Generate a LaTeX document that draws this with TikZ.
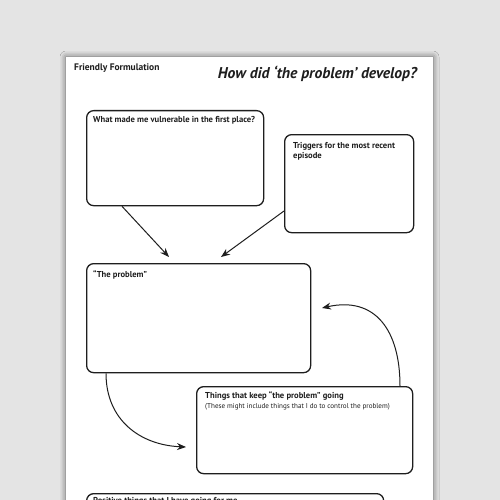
\documentclass[tikz,border=0pt]{standalone}
\usepackage{fontspec}
\setmainfont{PT Sans}
\usetikzlibrary{arrows.meta,shadows.blur,calc}
\definecolor{bggrey}{HTML}{E4E4E4}
\definecolor{ink}{HTML}{1E1E1E}
\tikzset{
  card/.style={draw=ink, line width=1.3pt, rounded corners=7pt, inner sep=0pt, anchor=north west},
  lab/.style={anchor=base west, inner sep=0pt, font=\bfseries\fontsize{8.6pt}{10pt}\selectfont, align=left, text=ink},
  conn/.style={draw=ink, line width=1pt, -{Stealth[length=9pt,width=7pt]}},
}
\begin{document}
\begin{tikzpicture}[x=1pt,y=-1pt]
\useasboundingbox (0,0) rectangle (500,500);
\clip (0,0) rectangle (500,500);
\fill[bggrey] (0,0) rectangle (500,500);
\fill[white, blur shadow={shadow xshift=0pt, shadow yshift=0pt, shadow blur radius=6pt, shadow opacity=60}] (66,57) rectangle (433,530);
% header
\node[anchor=base west, inner sep=0pt, font=\bfseries\fontsize{9.5pt}{11pt}\selectfont, text=ink] (hdr) at (74,71) {Friendly Formulation};
\node[anchor=base east, inner sep=0pt, font=\bfseries\itshape\fontsize{15.6pt}{18pt}\selectfont, text=ink] (title) at (417,79) {How did ‘the problem’ develop?};
% boxes
\node[card, minimum width=177pt, minimum height=95pt] (b1) at (86,110) {};
\node[card, minimum width=129pt, minimum height=98pt] (b2) at (284,134) {};
\node[card, minimum width=224pt, minimum height=109pt] (b3) at (86,263) {};
\node[card, minimum width=216pt, minimum height=87pt] (b4) at (196,386) {};
\node[card, minimum width=297pt, minimum height=60pt] (b5) at (86,493) {};
% texts
\node[lab] (t1) at (93,122.5) {What made me vulnerable in the first place?};
\node[lab] (t2) at (293,148.5) {Triggers for the most recent};
\node[lab] (t2b) at (293,158.5) {episode};
\node[lab] (t3) at (93,277.5) {“The problem”};
\node[lab, font=\bfseries\fontsize{8.6pt}{10pt}\selectfont] (t4) at (205,398.5) {Things that keep “the problem” going};
\node[lab, font=\fontsize{7.1pt}{8pt}\selectfont] (t4b) at (205,408) {(These might include things that I do to control the problem)};
\node[lab] (t5) at (93,503) {Positive things that I have going for me};
% connectors
\coordinate (a1s) at ($(b1.south west)+(36,0)$);
\coordinate (a1e) at (169,257);
\draw[conn] (a1s) -- (a1e);
\coordinate (a2s) at ($(b2.north west)+(0,77)$);
\coordinate (a2e) at (221,257);
\draw[conn] (a2s) -- (a2e);
\coordinate (c3s) at ($(b4.north west)+(204,0)$);
\coordinate (c3e) at (322,308);
\draw[conn] (c3s) .. controls (400,330) and (375,296) .. (c3e);
\coordinate (c4s) at ($(b3.south west)+(20,0)$);
\coordinate (c4e) at (186,447);
\draw[conn] (c4s) .. controls (106,420) and (140,445) .. (c4e);
\end{tikzpicture}
\end{document}
